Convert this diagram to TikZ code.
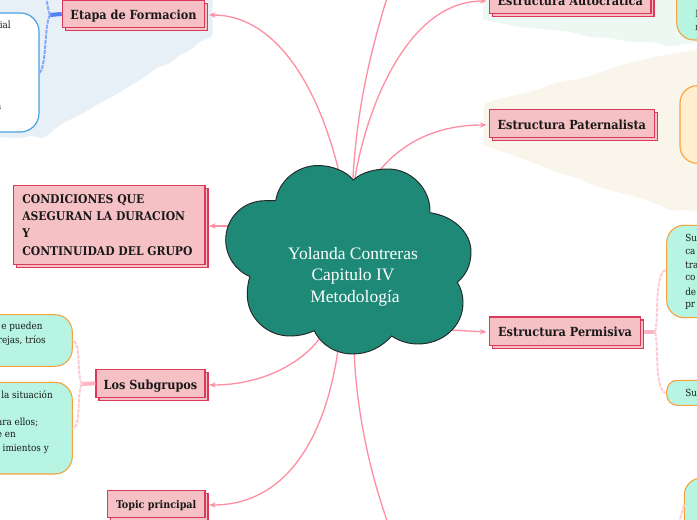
\documentclass[tikz,border=0pt]{standalone}
\usepackage{fontspec}
\usetikzlibrary{shadows,arrows.meta}
\setmainfont{Liberation Serif}
\newfontfamily\boxfont{DejaVu Serif Condensed}
\definecolor{conn}{HTML}{FF8FA3}
\definecolor{boxfill}{HTML}{F5C1C4}
\definecolor{boxline}{HTML}{D93A5A}
\definecolor{mint}{HTML}{B7F4E2}
\definecolor{orangeline}{HTML}{F7A13B}
\definecolor{cloudfill}{HTML}{1E8977}
\definecolor{blueline}{HTML}{4D82FA}
\definecolor{bluedash}{HTML}{86A8FB}
\definecolor{pinkbranch}{HTML}{FFB6C4}
\definecolor{pinkdash}{HTML}{FFCBD5}
\definecolor{blobblue}{HTML}{E8F0F7}
\definecolor{blobgreen}{HTML}{EEF8F3}
\definecolor{blobbeige}{HTML}{F9F5EA}
\tikzset{
  x=0.75pt,y=-0.75pt,
  mainbox/.style={draw=boxline,fill=boxfill,line width=0.9pt,inner sep=0pt,font=\boxfont\bfseries\fontsize{9.4}{12.8}\selectfont,text=black!90,text height=9pt,text depth=0pt,
    copy shadow={shadow xshift=2.25pt,shadow yshift=-2.25pt,draw=boxline,fill=boxfill,opacity=1}},
  wh/.style 2 args={minimum width=#1*0.75pt,minimum height=#2*0.75pt},
  link/.style={draw=conn,line width=1pt,-{Stealth[length=5pt,width=4pt]}},
  linkfree/.style={draw=conn,line width=1pt},
  leaf/.style={draw=orangeline,fill=mint,line width=0.8pt,rounded corners=13pt},
  leaftext/.style={font=\boxfont\fontsize{7.35}{10}\selectfont,text=black!90,inner sep=0pt},
  branchbar/.style={line width=3pt},
  branchdash/.style={line width=1.5pt,dash pattern=on 3pt off 0.8pt},
}
\begin{document}
\begin{tikzpicture}
\useasboundingbox (0,0) rectangle (697,520);
\clip (0,0) rectangle (697,520);
% background blobs
\fill[white] (0,0) rectangle (697,520);
\fill[blobblue] (-5,-5) -- (212.7,-5) -- (212.7,32) -- plot[smooth,tension=0.5] coordinates {(212.7,32) (211,37) (200,42) (190,50) (177,57) (170,63) (157,68) (143,78) (128,87) (115,95) (100,103) (80,115) (63,123) (50,133) (43,138) (30,136) (20,138) (0,137)} -- (-5,137) -- cycle;
\fill[blobgreen] (483,-5) -- plot[smooth,tension=0.5] coordinates {(483,20) (500,23) (520,27) (543,29) (570,32) (590,37) (610,38) (630,42) (650,42) (670,46) (685,44) (697,43)} -- (700,43) -- (700,-5) -- cycle;
\fill[blobbeige] (700,49) -- plot[smooth,tension=0.5] coordinates {(697,50) (677,53) (650,58) (613,68) (587,77) (557,83) (530,92) (507,97) (486,103)} -- (483.5,108) -- (483.5,143) -- plot[smooth,tension=0.5] coordinates {(485,146) (503,152) (520,158) (540,165) (557,172) (577,178) (593,185) (613,191) (637,197) (657,204) (670,210) (685,210) (697,211)} -- (700,211) -- cycle;
% leaves
\draw[draw={rgb,255:red,74;green,163;blue,223},fill=white,line width=0.9pt,rounded corners=14pt] (-30,13) rectangle (39,132);
\draw[leaf] (-30,314.7) rectangle (72.3,366.3);
\draw[leaf] (-30,382.3) rectangle (72.3,474);
\draw[leaf] (666.7,225.3) rectangle (730,317.7);
\draw[leaf,rounded corners=8pt] (666.7,380.3) rectangle (730,405.3);
\draw[leaf] (684.3,478) rectangle (730,560);
\draw[leaf] (676.7,-30) rectangle (730,40);
\draw[leaf,fill={rgb,255:red,255;green,239;blue,207}] (680,85.7) rectangle (730,163.3);
% leaf texts
\node[leaftext,anchor=east] (l1) at (11,25) {ial};
\node[leaftext,anchor=east] (l2) at (1.5,107) {n};
\node[leaftext,anchor=east] (l3) at (42.7,327) {e pueden};
\node[leaftext,anchor=east] (l4) at (46,341) {rejas, tríos};
\node[leaftext,anchor=east] (l5) at (53,395) {la situación};
\node[leaftext,anchor=east] (l6) at (38.5,422) {ara ellos;};
\node[leaftext,anchor=east] (l7) at (16,435) {e en};
\node[leaftext,anchor=east] (l8) at (49,449) {imientos y};
\foreach \t/\y/\n in {Su/238/a,ca/252/b,tra/265/c,co/278/d,de/292/e,pr/306/f}
  \node[leaftext,anchor=west] (r\n) at (685,\y) {\t};
\node[leaftext,anchor=west] (r2) at (685,393) {Su};
\node[leaftext,anchor=west] (t1) at (695,14) {I};
\node[leaftext,anchor=west] (t2) at (695,28) {r};
% main boxes
\node[mainbox,wh={142.4}{27.2}] (etapa) at (133.5,14) {Etapa de Formacion};
\node[mainbox,wh={161.7}{27.3}] (auto) at (570.2,-0.4) {Estructura Autocratica};
\node[mainbox,wh={165}{28}] (pat) at (571.8,123.3) {Estructura Paternalista};
\node[mainbox,wh={151.4}{28.3},text height=8pt] (perm) at (565,331.2) {Estructura Permisiva};
\node[mainbox,wh={109}{28}] (sub) at (150.5,383.3) {Los Subgrupos};
\node[mainbox,wh={97.7}{27},text height=6pt,font=\boxfont\bfseries\fontsize{8}{12}\selectfont] (topic) at (156.2,504.2) {Topic principal};
\node[mainbox,wh={191.3}{79},align=left,text height=,text depth=,font=\boxfont\bfseries\fontsize{9}{12.8}\selectfont] (cond) at (109.4,224.8) {\rule{0pt}{1.5pt}CONDICIONES QUE\\ASEGURAN LA DURACION\\Y\\[0.4pt]CONTINUIDAD DEL GRUPO\hspace*{3pt}};
% branches
\coordinate (jb) at (50,15);
\coordinate (jb1) at (46.5,-2);
\coordinate (jb2) at (39.5,73);
\draw[blueline,branchbar] (etapa.west) -- (jb);
\draw[bluedash,branchdash] (jb) .. controls (48,10) and (47.5,5) .. (jb1);
\draw[bluedash,branchdash] (jb) .. controls (44,25) and (47,65) .. (jb2);
\coordinate (js) at (82,384);
\coordinate (js1) at (72.7,340);
\coordinate (js2) at (72.7,429);
\draw[pinkbranch,branchbar] (sub.west) -- (js);
\draw[pinkdash,branchdash] (js) .. controls (76,375) and (82,345) .. (js1);
\draw[pinkdash,branchdash] (js) .. controls (76,393) and (82,425) .. (js2);
\coordinate (jp) at (655,332);
\coordinate (jp0) at (644,332);
\coordinate (jp1) at (665.5,270);
\coordinate (jp2) at (665.5,393);
\draw[pinkbranch,branchbar] (jp0) -- (jp);
\draw[pinkdash,branchdash] (jp) .. controls (659,320) and (654,275) .. (jp1);
\draw[pinkdash,branchdash] (jp) .. controls (659,345) and (654,388) .. (jp2);
\coordinate (jq1) at (684,505);
\coordinate (jq2) at (678,526);
\draw[pinkdash,branchdash] (jq1) -- (jq2);
% connectors
\coordinate (c1) at (339,172);
\coordinate (c2) at (353,178);
\coordinate (c3) at (355,178);
\coordinate (c4) at (380,170);
\coordinate (c5) at (228,226);
\coordinate (c6) at (320,338);
\coordinate (c7) at (338,350);
\coordinate (c8) at (354,350);
\coordinate (c9) at (450,330);
\coordinate (top) at (391,-15);
\coordinate (bot) at (392,535);
\coordinate (a1) at (209,15);
\coordinate (a2) at (486.5,1);
\coordinate (a3) at (486.5,125);
\coordinate (a4) at (486.5,332);
\coordinate (a5) at (209,385);
\coordinate (a6) at (209,505);
\coordinate (a7) at (209,226);
\draw[link] (c1) .. controls (318,85) and (275,15) .. (a1);
\draw[linkfree] (c2) .. controls (357,105) and (372,45) .. (top);
\draw[link] (c3) .. controls (365,115) and (405,1) .. (a2);
\draw[link] (c4) .. controls (405,140) and (440,125) .. (a3);
\draw[link] (c5) -- (a7);
\draw[link] (c6) .. controls (300,365) and (260,385) .. (a5);
\draw[link] (c7) .. controls (325,440) and (285,505) .. (a6);
\draw[linkfree] (c8) .. controls (357,420) and (372,480) .. (bot);
\draw[link] (c9) -- (a4);
% cloud
\draw[fill=cloudfill,draw=black!85,line width=0.7pt]
 (275.7,200.7) .. controls (279,180) and (298,165.5) .. (318,165.5)
 .. controls (333,165.5) and (347,172) .. (353.3,180)
 .. controls (362,172) and (375,169) .. (388,169)
 .. controls (412,169) and (431,190) .. (430,212.7)
 .. controls (453,216) and (471,232) .. (471,252)
 .. controls (471,265) and (466,275) .. (457.3,282.3)
 .. controls (461,288) and (463,295) .. (463,303)
 .. controls (463,326) and (443,344) .. (418,344)
 .. controls (408,344) and (399,341) .. (391.7,336)
 .. controls (382,347) and (368,354) .. (353,354)
 .. controls (336,354) and (321,345) .. (314.3,330.7)
 .. controls (307,334) and (299,336) .. (290,336)
 .. controls (266,336) and (247.3,317) .. (247.3,295)
 .. controls (247.3,288) and (248,282) .. (250,276.7)
 .. controls (235,270) and (225.7,256) .. (225.7,240)
 .. controls (225.7,218) and (243,200.7) .. (265,200.7)
 .. controls (269,200.7) and (272,200.7) .. (275.7,200.7) -- cycle;
\node[text=white,align=center,inner sep=0pt,font=\fontsize{13.1}{16.2}\selectfont] (cloud) at (353,276.5) {Yolanda Contreras\\Capitulo IV\\\hspace*{3pt}Metodología};
\end{tikzpicture}
\end{document}
